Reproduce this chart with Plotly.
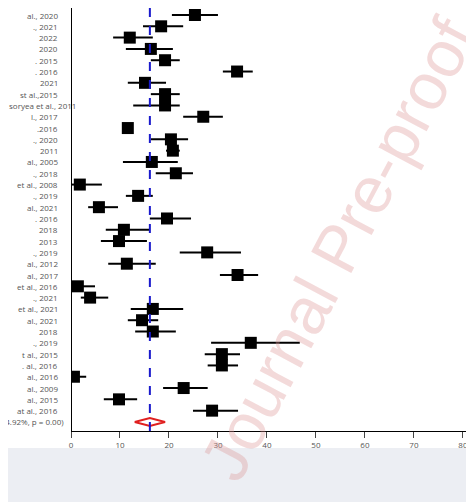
import plotly.graph_objects as go

labels = ["al., 2020", "., 2021", "2022", "2020", ". 2015", ". 2016", "2021", "st al.,2015",
          "soryea et al., 2011", "l., 2017", ".2016", "., 2020", "2011", "al., 2005", "., 2018",
          "et al., 2008", "., 2019", "al., 2021", ". 2016", "2018", "2013", "., 2019", "al., 2012",
          "al., 2017", "et al., 2016", "., 2021", "et al., 2021", "al., 2021", "2018", "., 2019",
          "t al., 2015", ". al., 2016", "al., 2016", "al., 2009", "al., 2015", "at al., 2016"]
est = [25.3, 18.4, 12.0, 16.3, 19.2, 33.9, 15.1, 19.2, 19.2, 27.0, 11.6, 20.4, 20.8, 16.5, 21.4,
       1.8, 13.7, 5.7, 19.6, 10.8, 9.8, 27.8, 11.4, 34.0, 1.4, 3.9, 16.7, 14.5, 16.7, 36.7,
       30.8, 30.8, 0.6, 23.0, 9.8, 28.8]
lo = [20.6, 14.7, 8.6, 11.2, 16.3, 31.0, 11.6, 16.3, 12.7, 22.9, 11.4, 16.3, 19.4, 10.6, 17.3,
      0.0, 11.2, 3.5, 16.1, 7.1, 6.1, 22.2, 7.6, 30.4, 0.0, 2.0, 12.2, 11.6, 13.1, 28.6,
      27.3, 27.9, 0.0, 18.8, 6.7, 24.9]
hi = [30.0, 22.9, 16.7, 20.8, 22.2, 37.1, 19.4, 22.2, 22.2, 31.0, 11.8, 23.9, 22.2, 21.8, 24.9,
      6.3, 16.7, 9.6, 24.5, 16.1, 15.5, 34.7, 17.3, 38.2, 4.9, 7.6, 22.9, 17.8, 21.4, 46.7,
      34.5, 34.1, 3.1, 27.9, 13.5, 34.1]
overall_est, overall_lo, overall_hi = 16.1, 13.0, 19.2
overall_label = "= 94.92%, p = 0.00)"
xticks = [0, 10, 20, 30, 40, 50, 60, 70, 80]

rows = list(range(1, len(est) + 1))
fig = go.Figure()
fig.add_trace(go.Scatter(
    x=est, y=rows, mode="markers",
    marker=dict(symbol="square", size=12, color="black"),
    error_x=dict(type="data", symmetric=False,
                 array=[h - e for h, e in zip(hi, est)],
                 arrayminus=[e - l for e, l in zip(est, lo)],
                 color="black", thickness=2, width=0),
    showlegend=False))
oy = len(est) + 1
fig.add_trace(go.Scatter(
    x=[overall_lo, overall_est, overall_hi, overall_est, overall_lo],
    y=[oy, oy - 0.35, oy, oy + 0.35, oy], mode="lines", fill="toself",
    fillcolor="white", line=dict(color="#e02020", width=2), showlegend=False))
fig.add_shape(type="line", x0=overall_est, x1=overall_est, y0=0, y1=1, yref="paper",
              line=dict(color="#1a1acc", width=2, dash="dash"))
fig.add_shape(type="line", x0=0, x1=0, y0=0, y1=1, yref="paper",
              line=dict(color="black", width=2))
fig.add_shape(type="rect", xref="paper", yref="paper", x0=-0.2, x1=1.1,
              y0=-79 / 423, y1=-17 / 423,
              fillcolor="#eceef3", line=dict(width=0), layer="below")

for r, lab in zip(rows, labels):
    px = 70 if "soryea" in lab else 52
    fig.add_annotation(x=(px - 63) / 411, xref="paper", y=r, text=lab, showarrow=False,
                       xanchor="right", font=dict(size=8, color="#555"))
fig.add_annotation(x=(58 - 63) / 411, xref="paper", y=oy, text=overall_label, showarrow=False,
                   xanchor="right", font=dict(size=8, color="#555"))

fig.add_annotation(text="Journal Pre-proof", x=0.65, y=0.43, xref="paper", yref="paper",
                   showarrow=False, textangle=-62,
                   font=dict(size=66, color="rgba(220,150,150,0.35)", family="Liberation Sans"))

fig.update_layout(
    width=474, height=502, margin=dict(l=63, r=0, t=0, b=79, autoexpand=False),
    paper_bgcolor="white", plot_bgcolor="white",
    xaxis=dict(range=[0, 83.9], tickvals=xticks, showgrid=False, zeroline=False,
               showline=True, linecolor="black", linewidth=1, ticks="outside", ticklen=6,
               tickfont=dict(size=8, color="#555")),
    yaxis=dict(range=[37.8, 0.38], showticklabels=False, showgrid=False, zeroline=False),
)
fig.write_html("out.html")
